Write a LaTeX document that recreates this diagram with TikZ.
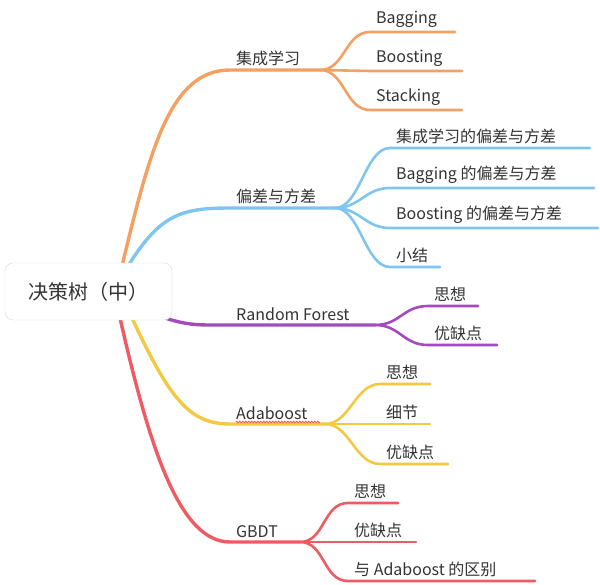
\documentclass[tikz,border=0pt]{standalone}
\usepackage{fontspec}
\setmainfont{Noto Sans CJK SC}
\usetikzlibrary{decorations.pathmorphing,calc}
\definecolor{cO}{HTML}{F4A062}
\definecolor{cB}{HTML}{7EC6EF}
\definecolor{cP}{HTML}{A34BBE}
\definecolor{cY}{HTML}{F5C842}
\definecolor{cR}{HTML}{EE5B63}
\definecolor{tx}{HTML}{333333}
\newcommand\mmchild[6]{% color, from, y, xstart, xend, label
  \draw[ch,#1] (#2) .. controls ($(#2)+(25,0)$) and (#4-25,#3) .. (#4,#3) -- (#5,#3);
  \node[lab] at (#4+6,#3-4) {#6};}
\begin{document}
\begin{tikzpicture}[x=1pt,y=-1pt,
  br/.style={line width=3.4pt,line cap=round},
  ch/.style={line width=2.6pt,line cap=round},
  lab/.style={anchor=south west,inner sep=0pt,font=\fontsize{16}{16}\selectfont,text=tx}]
\useasboundingbox (0,0) rectangle (600,585);
\draw[br,cO] (122,266) .. controls (150,150) and (170,70) .. (230,70) -- (320,70) coordinate(oe);
\node[lab] (nO) at (236,66) {集成学习};
\draw[br,cB] (128,266) .. controls (160,215) and (180,208) .. (230,208) -- (335,208) coordinate(be);
\node[lab] (nB) at (236,204) {偏差与方差};
\draw[br,cP] (165,318) .. controls (190,326) and (200,325) .. (230,325) -- (375,325) coordinate(pe);
\node[lab] (nP) at (236,321) {Random Forest};
\draw[br,cY] (132,318) .. controls (170,400) and (190,424) .. (230,424) -- (325,424) coordinate(ye);
\node[lab] (nY) at (236,420) {Adaboost};
\draw[cR,line width=0.8pt,decorate,decoration={zigzag,segment length=3pt,amplitude=0.8pt}] (236,422) -- (320,422);
\draw[br,cR] (120,318) .. controls (150,450) and (180,542) .. (230,542) -- (300,542) coordinate(re);
\node[lab] (nR) at (236,538) {GBDT};
\mmchild{cO}{oe}{32}{370}{455}{Bagging}
\mmchild{cO}{oe}{71}{370}{462}{Boosting}
\mmchild{cO}{oe}{110}{370}{462}{Stacking}
\mmchild{cB}{be}{148}{390}{590}{集成学习的偏差与方差}
\mmchild{cB}{be}{188}{390}{594}{Bagging 的偏差与方差}
\mmchild{cB}{be}{228}{390}{598}{Boosting 的偏差与方差}
\mmchild{cB}{be}{267}{390}{440}{小结}
\mmchild{cP}{pe}{306}{428}{478}{思想}
\mmchild{cP}{pe}{345}{428}{497}{优缺点}
\mmchild{cY}{ye}{384}{380}{430}{思想}
\mmchild{cY}{ye}{424}{380}{430}{细节}
\mmchild{cY}{ye}{464}{380}{448}{优缺点}
\mmchild{cR}{re}{503}{348}{398}{思想}
\mmchild{cR}{re}{542}{348}{416}{优缺点}
\mmchild{cR}{re}{581}{348}{535}{与 Adaboost 的区别}
\node[draw=black!15,fill=white,rounded corners=8pt,minimum width=167pt,minimum height=57pt,font=\fontsize{20}{20}\selectfont,text=tx] (root) at (88.5,291.5) {决策树（中）};
\end{tikzpicture}
\end{document}
